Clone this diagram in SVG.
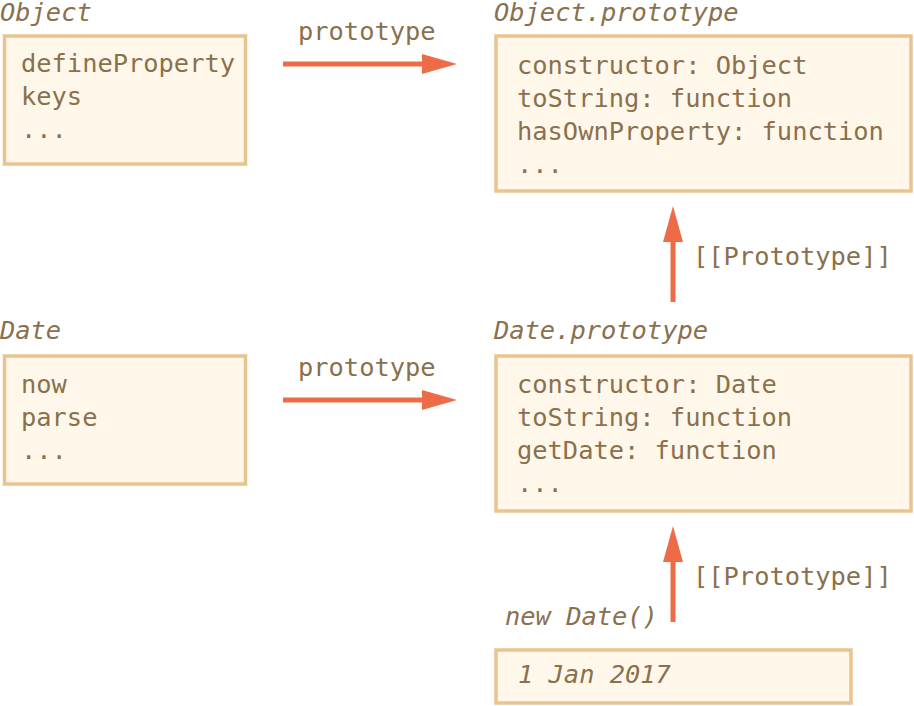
<svg xmlns="http://www.w3.org/2000/svg" width="914" height="706" viewBox="0 0 914 706">
<style>
text{font-family:"DejaVu Sans Mono","Liberation Mono",monospace;font-size:25.4px;fill:#8a704d}
.i{font-style:italic}
.box{fill:#fff8ea;stroke:#e8c48e;stroke-width:3.5}
.ln{stroke:#ee6b47;stroke-width:5;fill:none}
.hd{fill:#ee6b47}
</style>
<rect width="914" height="706" fill="#ffffff"/>
<g id="object">
<text class="i" x="0" y="21">Object</text>
<rect class="box" x="4.5" y="36" width="241" height="128"/>
<text x="21" y="72">defineProperty</text>
<text x="21" y="105">keys</text>
<text x="21" y="138">...</text>
</g>
<g id="object-prototype">
<text class="i" x="494" y="21">Object.prototype</text>
<rect class="box" x="496" y="36" width="415" height="155"/>
<text x="517" y="74">constructor: Object</text>
<text x="517" y="107">toString: function</text>
<text x="517" y="140">hasOwnProperty: function</text>
<text x="517" y="173">...</text>
</g>
<g id="date">
<text class="i" x="0" y="339">Date</text>
<rect class="box" x="4.5" y="356" width="241" height="128"/>
<text x="21" y="393">now</text>
<text x="21" y="426">parse</text>
<text x="21" y="459">...</text>
</g>
<g id="date-prototype">
<text class="i" x="494" y="339">Date.prototype</text>
<rect class="box" x="496" y="356" width="415" height="155"/>
<text x="517" y="393">constructor: Date</text>
<text x="517" y="426">toString: function</text>
<text x="517" y="459">getDate: function</text>
<text x="517" y="492">...</text>
</g>
<g id="new-date">
<text class="i" x="505" y="625">new Date()</text>
<rect class="box" x="496" y="650" width="355" height="53"/>
<text class="i" x="518" y="683">1 Jan 2017</text>
</g>
<g id="connectors">
<line class="ln" x1="283" y1="64" x2="424" y2="64"/>
<polygon class="hd" points="422,54 457,64 422,74"/>
<text x="298" y="40">prototype</text>
<line class="ln" x1="283" y1="400" x2="424" y2="400"/>
<polygon class="hd" points="422,390 457,400 422,410"/>
<text x="298" y="376">prototype</text>
<line class="ln" x1="673" y1="302" x2="673" y2="240"/>
<polygon class="hd" points="663,242 673,206 683,242"/>
<text x="693" y="265">[[Prototype]]</text>
<line class="ln" x1="673" y1="622" x2="673" y2="560"/>
<polygon class="hd" points="663,562 673,526 683,562"/>
<text x="693" y="585">[[Prototype]]</text>
</g>
</svg>
